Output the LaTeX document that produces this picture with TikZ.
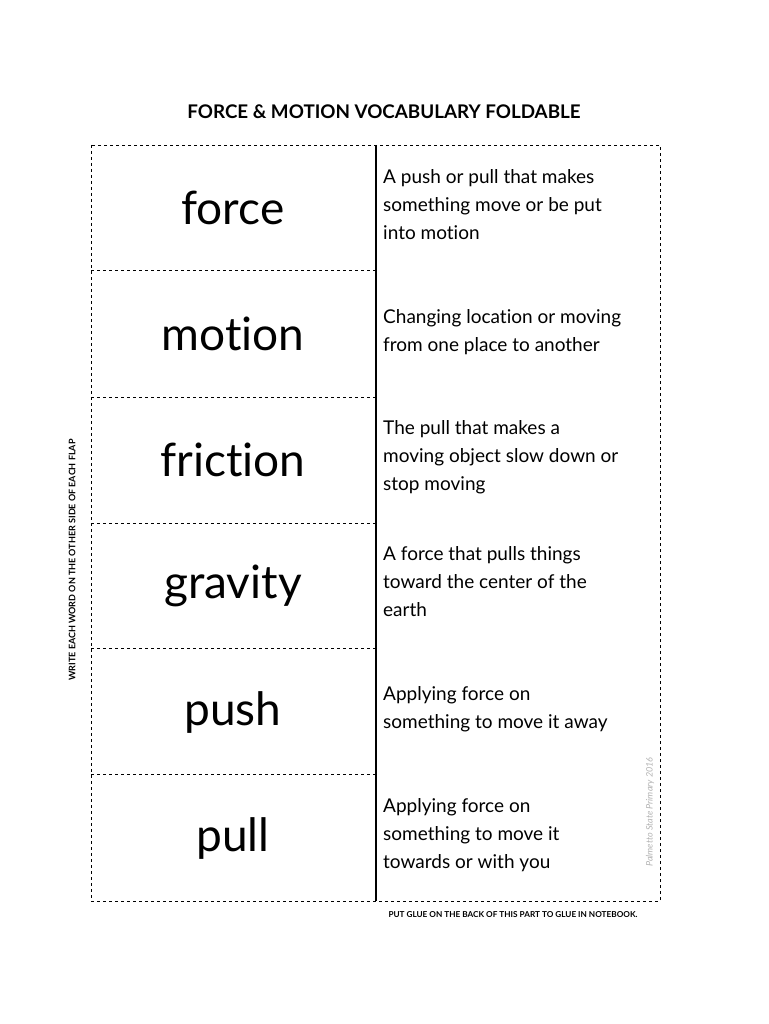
\documentclass[tikz,border=0pt]{standalone}
\usepackage{fontspec}
\setmainfont[Ligatures=NoCommon,Contextuals=NoAlternate]{Lato}
\begin{document}
\begin{tikzpicture}[x=1pt,y=-1pt,
  word/.style={font=\fontsize{46}{50}\selectfont},
  defn/.style={font=\fontsize{19}{28}\selectfont,anchor=north west,align=left,inner sep=0pt},
  dline/.style={dashed,line width=0.8pt}]
\useasboundingbox (0,0) rectangle (768,1024);
\node (title) at (384,112) {\fontsize{18.8}{22}\selectfont\bfseries FORCE \& MOTION VOCABULARY FOLDABLE};
\draw[dline] (91,145) rectangle (660,901);
\draw[line width=1.6pt] (376,145) -- (376,901);
\foreach \y in {270,397,523,648,774} \draw[dline] (91,\y) -- (376,\y);
\node[word] (w1) at (233,208) {force};
\node[word] (w2) at (233,334) {motion};
\node[word] (w3) at (233,460) {friction};
\node[word] (w4) at (233,586) {gravity};
\node[word] (w5) at (233,712) {push};
\node[word] (w6) at (233,838) {pull};
\node[defn] (d1) at (383,169) {A push or pull that makes\\something move or be put\\into motion};
\node[defn] (d2) at (383,309) {Changing location or moving\\from one place to another};
\node[defn] (d3) at (383,420) {The pull that makes a\\moving object slow down or\\stop moving};
\node[defn] (d4) at (383,546) {A force that pulls things\\toward the center of the\\earth};
\node[defn] (d5) at (383,686) {Applying force on\\something to move it away};
\node[defn] (d6) at (383,798) {Applying force on\\something to move it\\towards or with you};
\node[rotate=90,font=\fontsize{9}{10}\selectfont\bfseries] (side) at (72,560) {WRITE EACH WORD ON THE OTHER SIDE OF EACH FLAP};
\node[rotate=90,font=\fontsize{9}{10}\selectfont\itshape,text=gray!60] (credit) at (650,812) {Palmetto State Primary 2016};
\node[font=\fontsize{8.2}{9}\selectfont\bfseries] (glue) at (513,915) {PUT GLUE ON THE BACK OF THIS PART TO GLUE IN NOTEBOOK.};
\end{tikzpicture}
\end{document}
